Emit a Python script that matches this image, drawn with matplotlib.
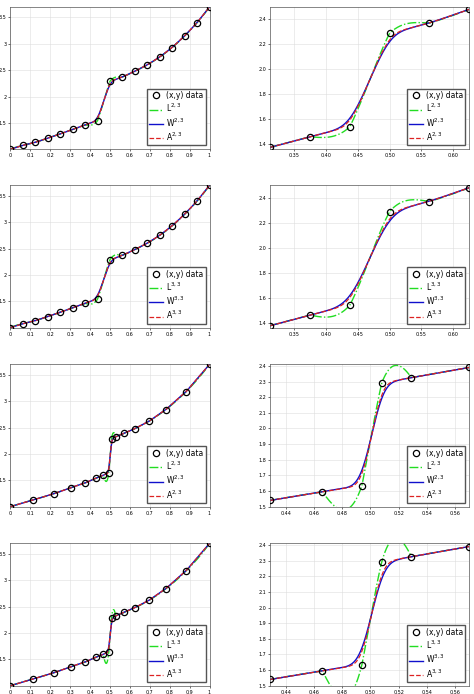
import numpy as np
import matplotlib
matplotlib.use("Agg")
import matplotlib.pyplot as plt

# data set 1 (uniform mesh)
x1 = [0, 0.0625, 0.125, 0.1875, 0.25, 0.3125, 0.375, 0.4375, 0.5, 0.5625,
      0.625, 0.6875, 0.75, 0.8125, 0.875, 0.9375, 1.0]
y1 = [1.0, 1.075, 1.13, 1.21, 1.29, 1.375, 1.46, 1.54, 2.29, 2.37,
      2.48, 2.6, 2.75, 2.93, 3.15, 3.4, 3.7]
# data set 2 (refined mesh near 0.5)
x2 = [0, 0.113, 0.218, 0.303, 0.376, 0.429, 0.466, 0.494, 0.508, 0.529,
      0.570, 0.625, 0.696, 0.78, 0.882, 1.0]
y2 = [1.0, 1.125, 1.245, 1.36, 1.45, 1.54, 1.595, 1.635, 2.29, 2.325,
      2.39, 2.48, 2.62, 2.84, 3.18, 3.7]

def lagr4(x, y, t, shift=1):
    x = np.asarray(x); y = np.asarray(y); out = np.empty_like(t)
    n = len(x)
    for k, tt in enumerate(t):
        i = np.clip(np.searchsorted(x, tt) - 1, 0, n - 2)
        s = np.clip(i - shift, 0, n - 4)
        xs, ys = x[s:s+4], y[s:s+4]
        v = 0.0
        for a in range(4):
            l = 1.0
            for b in range(4):
                if a != b:
                    l *= (tt - xs[b]) / (xs[a] - xs[b])
            v += ys[a] * l
        out[k] = v
    return out

def lagr_sym(x, y, t):
    # average of two one-sided 4-point stencils
    return 0.5 * (lagr4(x, y, t, 1) + lagr4(x, y, t, 2)) * 0 + \
        np.where(True, 1.3 * lagr4(x, y, t, 1) - 0.3 * np.interp(t, x, y), 0)

def smooth(x, y, t, sigma):
    # Gaussian-smoothed piecewise-linear interpolant
    x = np.asarray(x, float); y = np.asarray(y, float)
    u = np.linspace(-6 * sigma, 6 * sigma, 241)
    wgt = np.exp(-0.5 * (u / sigma) ** 2); wgt /= wgt.sum()
    tt = t[:, None] + u[None, :]
    lo = (y[1] - y[0]) / (x[1] - x[0]); hi = (y[-1] - y[-2]) / (x[-1] - x[-2])
    v = np.interp(tt, x, y)
    v = np.where(tt < x[0], y[0] + lo * (tt - x[0]), v)
    v = np.where(tt > x[-1], y[-1] + hi * (tt - x[-1]), v)
    return (v * wgt).sum(axis=1)

fig = plt.figure(figsize=(4.74, 6.94), dpi=100)
lefts = [0.022, 0.57]
w = 0.42
bottoms = [0.785, 0.528, 0.27, 0.012]
hgt = 0.205
rows = [(x1, y1, "2,3", 1.0, (0.3125, 0.625), 0.016),
        (x1, y1, "3,3", 1.3, (0.3125, 0.625), 0.018),
        (x2, y2, "2,3", 1.0, (0.429, 0.57), 0.0055),
        (x2, y2, "3,3", 1.4, (0.429, 0.57), 0.006)]

for r, (xs, ys, sup, amp, zoom, sig) in enumerate(rows):
    for c in range(2):
        ax = fig.add_axes([lefts[c], bottoms[r], w, hgt])
        if c == 0:
            t = np.linspace(0, 1, 1500)
        else:
            t = np.linspace(zoom[0], zoom[1], 800)
        lin = np.interp(t, xs, ys)
        Lc = lin + amp * (lagr4(xs, ys, t, 1) - lin)
        ax.plot(xs, ys, 'o', mfc='none', mec='black', ms=4.5, mew=0.9, label='(x,y) data', zorder=5)
        ax.plot(t, Lc, '-.', color='#22dd22', lw=1.0, label='L$^{%s}$' % sup)
        ax.plot(t, smooth(xs, ys, t, sig), '-', color='#1010cc', lw=1.0, label='W$^{%s}$' % sup)
        ax.plot(t, smooth(xs, ys, t, sig * 0.8), '--', color='#dd2222', lw=0.9, label='A$^{%s}$' % sup)
        if c == 0:
            ax.set_xlim(0, 1)
            ax.set_xticks(np.arange(0, 1.01, 0.1))
            ax.set_xticklabels(['0'] + ['%.1f' % v for v in np.arange(0.1, 0.95, 0.1)] + ['1'])
            ax.set_ylim(1.0, 3.7)
            ax.set_yticks([1.5, 2, 2.5, 3, 3.5])
            ax.set_yticklabels(['1.5', '2', '2.5', '3', '3.5'])
        else:
            ax.set_xlim(*zoom)
            if r < 2:
                ax.set_ylim(1.36, 2.5)
                ax.set_xticks([0.35, 0.4, 0.45, 0.5, 0.55, 0.6])
                ax.set_yticks([1.4, 1.6, 1.8, 2, 2.2, 2.4])
            else:
                ax.set_ylim(1.5, 2.41)
                ax.set_xticks([0.44, 0.46, 0.48, 0.5, 0.52, 0.54, 0.56])
                ax.set_yticks(np.arange(1.5, 2.41, 0.1))
        ax.tick_params(labelsize=3.5, length=1.5, width=0.4, pad=1.5)
        ax.grid(True, color='#dddddd', lw=0.4)
        for s in ax.spines.values():
            s.set_linewidth(0.5); s.set_color('#555555')
        ax.legend(loc='lower right', fontsize=5.5, handlelength=1.8, borderpad=0.3,
                  labelspacing=0.25, handletextpad=0.4, fancybox=False, framealpha=1,
                  edgecolor='#555555')

fig.savefig("out.png", dpi=100)
